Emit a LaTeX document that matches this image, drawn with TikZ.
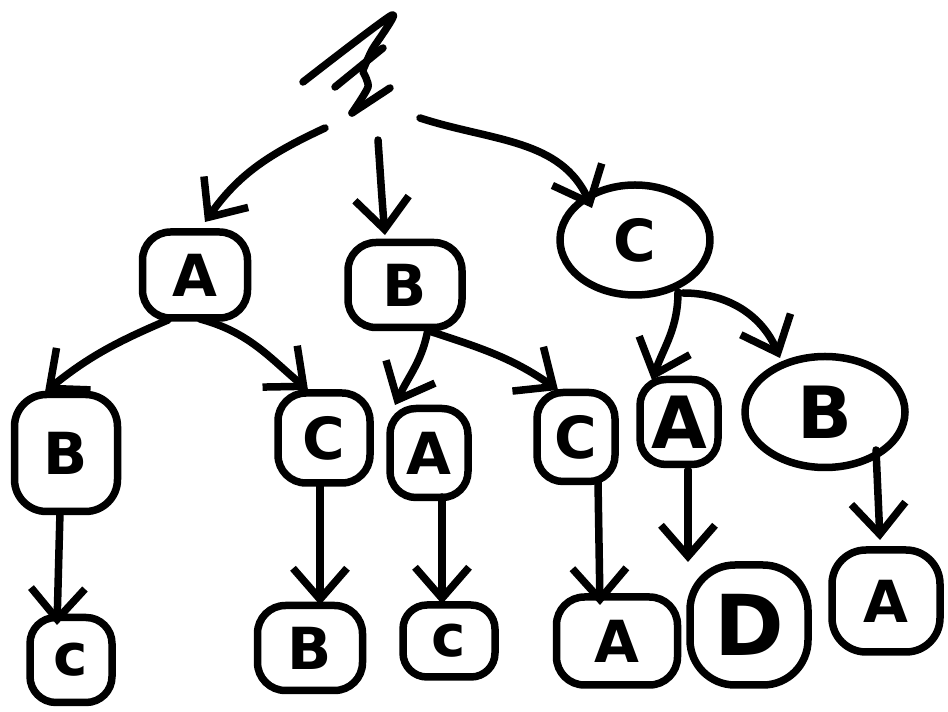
\documentclass[tikz,border=0pt]{standalone}
\usepackage{fontspec}
\setmainfont{DejaVu Sans}
\usetikzlibrary{arrows.meta,shapes.geometric,calc}
\begin{document}
\begin{tikzpicture}[x=1pt,y=1pt,
  ink/.style={line width=7.5pt, line cap=round, line join=round},
  letter/.style={font=\fontsize{58}{60}\selectfont\bfseries},
  bigletter/.style={font=\fontsize{72}{74}\selectfont\bfseries},
  nd/.style={draw, ink, rectangle, rounded corners=28pt, inner sep=0pt, letter},
  blob/.style={draw, ink, ellipse, inner sep=0pt, letter},
  arr/.style={ink, -{Straight Barb[length=31pt,width=54pt]}},
]
\useasboundingbox (0,0) rectangle (948,712);
\fill[white] (0,0) rectangle (948,712);

% root scribble
\node[minimum width=130, minimum height=130, inner sep=0pt] (root) at (362,640) {};
\draw[ink] plot[smooth, tension=0.4] coordinates {(303,630) (392,697) (372,662) (363,642)};
\draw[ink] (383,664) -- (335,625);
\draw[ink] plot[smooth, tension=0.4] coordinates {(363,640) (368,625) (352,599)};
\draw[ink] (352,599) -- (390,624);

% level 1
\node[nd, minimum width=105, minimum height=86] (A1) at (195,437) {A};
\node[nd, minimum width=114, minimum height=85] (B1) at (405,427) {B};
\node[blob, minimum width=150, minimum height=110] (C1) at (635,472) {C};

% level 2
\node[nd, minimum width=103, minimum height=117, rounded corners=32pt] (B2) at (66,259) {B};
\node[nd, minimum width=92, minimum height=90] (C2) at (324,274) {C};
\node[nd, minimum width=78, minimum height=89, rounded corners=26pt] (A2) at (429,259) {A};
\node[nd, minimum width=78, minimum height=89, rounded corners=26pt] (C3) at (576,275) {C};
\node[nd, minimum width=78, minimum height=85, rounded corners=26pt, bigletter] (A3) at (679,290) {A};
\node[blob, minimum width=160, minimum height=111, bigletter] (B3) at (825,300) {B};

% level 3
\node[nd, minimum width=82, minimum height=85, rounded corners=26pt] (C4) at (71,52) {c};
\node[nd, minimum width=105, minimum height=85] (B4) at (310,64) {B};
\node[nd, minimum width=92, minimum height=72, rounded corners=24pt] (C5) at (449,71) {c};
\node[nd, minimum width=121, minimum height=88] (A4) at (617,71) {A};
\node[nd, minimum width=118, minimum height=120, rounded corners=45pt, font=\fontsize{84}{86}\selectfont\bfseries] (D) at (749,87) {D};
\node[nd, minimum width=108, minimum height=102, rounded corners=34pt] (A5) at (886,111) {A};

% connectors
\draw[arr] ($(root.center)+(-37,-56)$) to[out=205,in=55] ($(A1.center)+(10,53)$);
\draw[arr] ($(root.center)+(16,-68)$) to[out=-86,in=95] ($(B1.center)+(-20,50)$);
\draw[arr] ($(root.center)+(58,-46)$) to[out=-18,in=114] ($(C1.center)+(-43,32)$);

\draw[arr] ($(A1.center)+(-27,-45)$) to[out=203,in=39] ($(B2.center)+(-21,61)$);
\draw[arr] ($(A1.center)+(5,-44)$) to[out=-15,in=140] ($(C2.center)+(-16,48)$);

\draw[arr] ($(B1.center)+(23,-44)$) to[out=-100,in=65] ($(A2.center)+(-34,48)$);
\draw[arr] ($(B1.center)+(27,-47)$) to[out=-18,in=145] ($(C3.center)+(-18,47)$);

\draw[arr] ($(C1.center)+(43,-52)$) to[out=-90,in=70] ($(A3.center)+(-27,42)$);
\draw[arr] ($(C1.center)+(48,-53)$) to[out=0,in=113] ($(B3.center)+(-45,54)$);

\draw[arr] ($(B2.center)+(-6,-59)$) -- ($(C4.center)+(-14,35)$);
\draw[arr] ($(C2.center)+(-4,-45)$) -- ($(B4.center)+(10,43)$);
\draw[arr] ($(A2.center)+(13,-44)$) -- ($(C5.center)+(-7,37)$);
\draw[arr] ($(C3.center)+(22,-45)$) -- ($(A4.center)+(-17,36)$);
\draw[arr] ($(A3.center)+(9,-48)$) -- ($(D.center)+(-61,63)$);
\draw[arr] ($(B3.center)+(51,-38)$) -- ($(A5.center)+(-6,61)$);
\end{tikzpicture}
\end{document}
